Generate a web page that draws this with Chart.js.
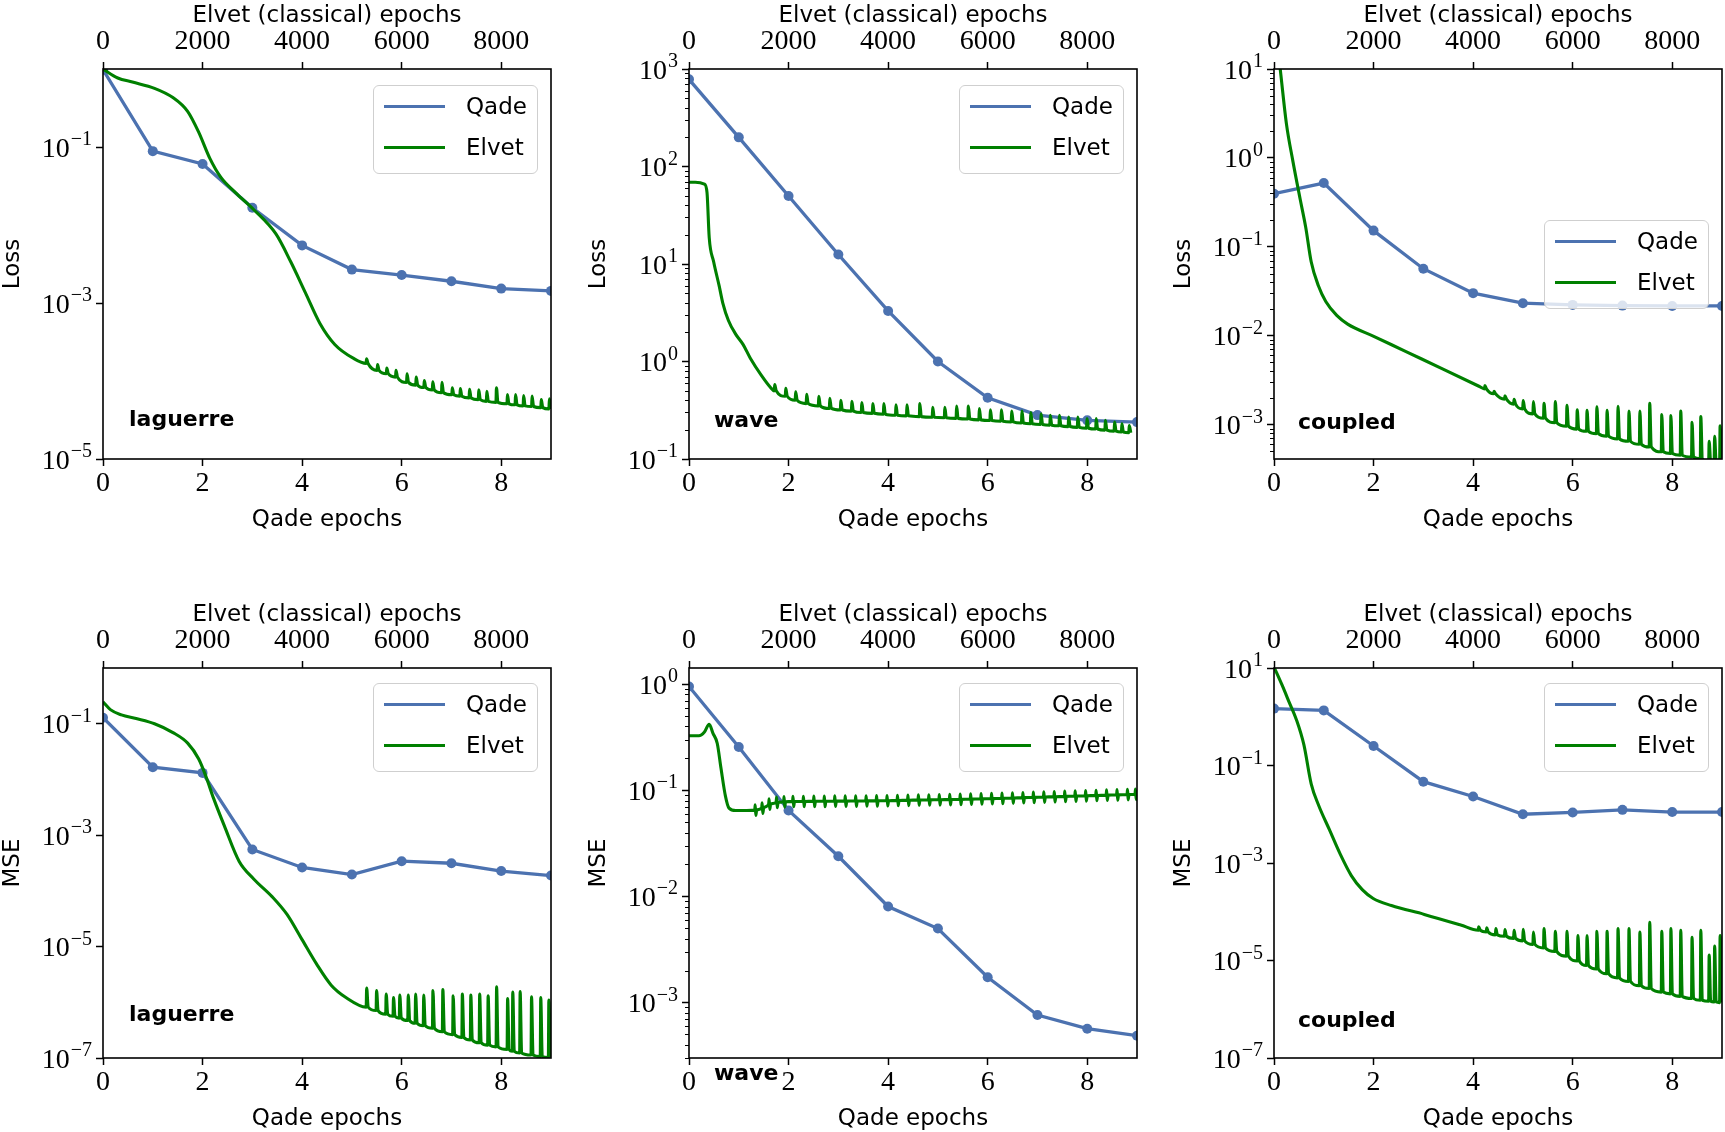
<!DOCTYPE html>
<html>
<head>
<meta charset="utf-8">
<script src="https://cdn.jsdelivr.net/npm/chart.js@4.4.1/dist/chart.umd.min.js"></script>
<style>
  body { margin: 0; width: 1725px; height: 1132px; overflow: hidden; background: #fff; position: relative; font-family: 'DejaVu Sans', sans-serif; }
  canvas { position: absolute; }
  .legend { position: absolute; width: 165px; height: 89px; box-sizing: border-box; border: 1.5px solid #cfcfcf; border-radius: 6px; background: rgba(255,255,255,0.8); }
  .legend .swatch { position: absolute; left: 10px; width: 61px; height: 3px; }
  .legend .name { position: absolute; left: 92px; font-size: 23px; line-height: 23px; color: #000; }
  .tag { position: absolute; font-weight: bold; font-size: 22px; line-height: 26px; color: #000; }
</style>
</head>
<body>
<script>
// x axis ticks
const qadeEpochs = [0, 1, 2, 3, 4, 5, 6, 7, 8, 9];
const qadeTicks = [0, 2, 4, 6, 8];
const elvetTicks = [0, 2000, 4000, 6000, 8000];

// laguerre - loss
const lagLossQade = [0.98, 0.0885, 0.0607, 0.0166, 0.00548, 0.00268, 0.00228, 0.0019, 0.00153, 0.00143];
const lagLossEp = [0, 296, 591, 1035, 1404, 1700, 1922, 2144, 2365, 2661, 3030, 3474, 3769, 4065, 4361, 4656, 5026];
const lagLossElvet = [1.0, 0.767, 0.68, 0.565, 0.43, 0.286, 0.155, 0.072, 0.041, 0.026, 0.0157, 0.00767, 0.0034, 0.00136, 0.000543, 0.000294, 0.000196];
// spikes: [epoch, base, top]
const lagLossSpikes = [
    [5285, 1.68e-4, 1.92e-4], [5506, 1.37e-4, 1.63e-4], [5691, 1.24e-4, 1.47e-4], [5876, 1.12e-4, 1.37e-4],
    [6098, 9.6e-5, 1.24e-4], [6282, 8.85e-5, 1.12e-4], [6445, 8.24e-5, 1.01e-4], [6615, 7.67e-5, 9.8e-5],
    [6800, 7.07e-5, 9.6e-5], [7007, 6.65e-5, 8.2e-5], [7169, 6.38e-5, 8.0e-5], [7354, 6.07e-5, 7.8e-5],
    [7539, 5.77e-5, 7.7e-5], [7701, 5.48e-5, 7.4e-5], [7894, 5.32e-5, 8.2e-5], [8115, 5.1e-5, 6.7e-5],
    [8278, 4.95e-5, 6.7e-5], [8440, 4.8e-5, 6.5e-5], [8610, 4.71e-5, 6.4e-5], [8795, 4.56e-5, 5.77e-5],
    [8958, 4.38e-5, 5.9e-5]
];
const lagLossDecades = [1e-5, 1e-3, 1e-1];

// wave - loss
const waveLossQade = [783, 199, 49.8, 12.5, 3.30, 1.0, 0.424, 0.282, 0.249, 0.239];
const waveLossEp = [0, 125, 310, 362, 406, 494, 605, 679, 790, 937, 1085, 1232, 1454, 1638];
const waveLossElvet = [69, 69, 66, 54, 18.7, 10.6, 5.99, 3.98, 2.65, 1.91, 1.50, 1.08, 0.72, 0.541];
const waveLossSpikes = [
    [1712, 0.50, 0.58], [1934, 0.44, 0.53], [2133, 0.40, 0.49], [2354, 0.37, 0.46], [2598, 0.35, 0.44],
    [2819, 0.33, 0.42], [3040, 0.318, 0.40], [3262, 0.31, 0.39], [3461, 0.30, 0.38], [3683, 0.294, 0.37],
    [3904, 0.288, 0.37], [4148, 0.281, 0.36], [4369, 0.277, 0.36], [4627, 0.272, 0.37], [4886, 0.268, 0.34],
    [5129, 0.265, 0.34], [5366, 0.261, 0.35], [5602, 0.257, 0.35], [5823, 0.252, 0.33], [6045, 0.248, 0.32],
    [6266, 0.244, 0.32], [6473, 0.240, 0.31], [6679, 0.234, 0.31], [6857, 0.230, 0.30], [7063, 0.226, 0.29],
    [7248, 0.222, 0.28], [7432, 0.219, 0.28], [7617, 0.215, 0.27], [7801, 0.211, 0.27], [7986, 0.207, 0.26],
    [8170, 0.203, 0.26], [8355, 0.198, 0.25], [8540, 0.193, 0.24], [8687, 0.189, 0.23], [8835, 0.186, 0.22]
];
const waveLossDecades = [0.1, 1, 10, 100, 1000];

// coupled - loss
const coupLossQade = [0.395, 0.521, 0.152, 0.0567, 0.0301, 0.0232, 0.0222, 0.0218, 0.0216, 0.0216];
const coupLossEp = [0, 125, 249, 381, 527, 637, 747, 894, 1040, 1260, 1480, 1993, 2652, 3385, 4117];
const coupLossElvet = [40, 10, 2.43, 0.908, 0.34, 0.166, 0.0678, 0.0362, 0.0242, 0.0169, 0.0135, 0.0099, 0.00662, 0.00424, 0.0027];
const coupLossSpikes = [
    [4227, 2.52e-3, 2.75e-3], [4410, 2.22e-3, 2.37e-3], [4630, 1.93e-3, 2.11e-3], [4813, 1.70e-3, 1.93e-3],
    [4996, 1.50e-3, 1.86e-3], [5201, 1.32e-3, 1.81e-3], [5414, 1.18e-3, 1.73e-3], [5641, 1.05e-3, 1.81e-3],
    [5875, 9.6e-4, 1.65e-3], [6081, 8.9e-4, 1.47e-3], [6278, 8.4e-4, 1.45e-3], [6476, 7.9e-4, 1.58e-3],
    [6681, 7.4e-4, 1.45e-3], [6901, 6.9e-4, 1.61e-3], [7121, 6.5e-4, 1.42e-3], [7340, 6.0e-4, 1.42e-3],
    [7538, 5.6e-4, 1.73e-3], [7780, 4.94e-4, 1.30e-3], [7963, 4.72e-4, 1.26e-3], [8161, 4.52e-4, 1.42e-3],
    [8388, 4.32e-4, 1.06e-3], [8564, 4.13e-4, 1.23e-3], [8732, 3.78e-4, 6.5e-4], [8842, 3.78e-4, 7.4e-4],
    [8952, 3.71e-4, 9.7e-4]
];
const coupLossDecades = [1e-3, 1e-2, 1e-1, 1, 10];

// laguerre - MSE
const lagMseQade = [0.128, 0.0166, 0.0131, 5.53e-4, 2.63e-4, 1.96e-4, 3.41e-4, 3.13e-4, 2.27e-4, 1.88e-4];
const lagMseEp = [0, 148, 370, 665, 1035, 1405, 1701, 1923, 2070, 2218, 2440, 2736, 3032, 3401, 3697, 3993, 4289, 4584, 4880];
const lagMseElvet = [0.247, 0.179, 0.144, 0.124, 0.1, 0.0694, 0.0448, 0.0232, 0.0112, 4.66e-3, 1.45e-3, 3.37e-4, 1.62e-4, 7.8e-5, 3.77e-5, 1.36e-5, 4.88e-6, 2.03e-6, 1.22e-6];
const lagMseSpikes = [
    [5287, 8.2e-7, 1.81e-6], [5486, 7.1e-7, 1.63e-6], [5679, 6.1e-7, 1.41e-6], [5826, 5.6e-7, 1.22e-6],
    [5952, 5.2e-7, 1.35e-6], [6122, 4.7e-7, 1.35e-6], [6270, 4.2e-7, 1.41e-6], [6433, 3.79e-7, 1.35e-6],
    [6618, 3.42e-7, 1.63e-6], [6817, 2.96e-7, 1.70e-6], [7024, 2.63e-7, 1.31e-6], [7209, 2.34e-7, 1.41e-6],
    [7379, 2.11e-7, 1.35e-6], [7557, 1.88e-7, 1.41e-6], [7727, 1.70e-7, 1.31e-6], [7897, 1.58e-7, 1.89e-6],
    [8118, 1.42e-7, 1.17e-6], [8222, 1.32e-7, 1.52e-6], [8370, 1.23e-7, 1.56e-6], [8599, 1.13e-7, 1.25e-6],
    [8784, 1.06e-7, 1.22e-6], [8947, 1.02e-7, 1.10e-6]
];
const lagMseDecades = [1e-7, 1e-5, 1e-3, 1e-1];

// wave - MSE
const waveMseQade = [0.95, 0.256, 0.0645, 0.0239, 8.03e-3, 4.98e-3, 1.73e-3, 7.62e-4, 5.67e-4, 4.87e-4];
const waveMseEp = [0, 199, 310, 406, 480, 568, 642, 731, 804, 937, 1159];
const waveMseElvet = [0.326, 0.326, 0.354, 0.419, 0.346, 0.276, 0.162, 0.0886, 0.0679, 0.0645, 0.0645];
// wiggles: [epoch, base, top, low]
const waveMseSpikes = [
    [1320, 0.0650, 0.0728, 0.0579], [1460, 0.0680, 0.0762, 0.0605], [1600, 0.0740, 0.0829, 0.0659],
    [1750, 0.0770, 0.0862, 0.0685], [1900, 0.0780, 0.0874, 0.0694], [2080, 0.0785, 0.0879, 0.0699],
    [2290, 0.0785, 0.0879, 0.0699], [2500, 0.0787, 0.0881, 0.0700], [2710, 0.0788, 0.0883, 0.0701],
    [2920, 0.0790, 0.0885, 0.0703], [3130, 0.0791, 0.0886, 0.0704], [3340, 0.0792, 0.0887, 0.0705],
    [3550, 0.0794, 0.0889, 0.0707], [3760, 0.0796, 0.0892, 0.0708], [3970, 0.0798, 0.0894, 0.0710],
    [4180, 0.0802, 0.0898, 0.0714], [4390, 0.0806, 0.0903, 0.0717], [4600, 0.0810, 0.0907, 0.0721],
    [4810, 0.0812, 0.0909, 0.0723], [5020, 0.0815, 0.0913, 0.0725], [5230, 0.0818, 0.0916, 0.0728],
    [5440, 0.0821, 0.0920, 0.0731], [5650, 0.0825, 0.0924, 0.0734], [5860, 0.0830, 0.0930, 0.0739],
    [6070, 0.0835, 0.0935, 0.0743], [6280, 0.0840, 0.0941, 0.0748], [6490, 0.0846, 0.0948, 0.0753],
    [6700, 0.0852, 0.0954, 0.0758], [6910, 0.0858, 0.0961, 0.0764], [7120, 0.0864, 0.0968, 0.0769],
    [7330, 0.0870, 0.0974, 0.0774], [7540, 0.0876, 0.0981, 0.0780], [7750, 0.0882, 0.0988, 0.0785],
    [7960, 0.0888, 0.0995, 0.0790], [8170, 0.0894, 0.1001, 0.0796], [8380, 0.0900, 0.1008, 0.0801],
    [8590, 0.0906, 0.1015, 0.0806], [8800, 0.0912, 0.1021, 0.0812], [8960, 0.0918, 0.1028, 0.0817]
];
const waveMseDecades = [1e-3, 1e-2, 1e-1, 1];

// coupled - MSE
const coupMseQade = [1.47, 1.35, 0.251, 0.0466, 0.0231, 0.01, 0.0109, 0.0123, 0.0111, 0.0111];
const coupMseEp = [0, 161, 308, 454, 601, 747, 894, 1113, 1333, 1553, 1773, 1993, 2359, 3018, 3751];
const coupMseElvet = [10.5, 4.49, 1.95, 0.847, 0.264, 0.0421, 0.0155, 4.83e-3, 1.50e-3, 5.52e-4, 2.84e-4, 1.87e-4, 1.34e-4, 8.83e-5, 5.35e-5];
const coupMseSpikes = [
    [4103, 4.17e-5, 4.92e-5], [4264, 3.84e-5, 4.68e-5], [4447, 3.36e-5, 4.53e-5], [4630, 3.14e-5, 4.31e-5],
    [4813, 2.84e-5, 4.17e-5], [4996, 2.53e-5, 4.38e-5], [5201, 2.14e-5, 3.84e-5], [5414, 1.81e-5, 4.53e-5],
    [5641, 1.53e-5, 3.97e-5], [5875, 1.23e-5, 3.97e-5], [6095, 9.8e-6, 3.25e-5], [6278, 7.9e-6, 3.25e-5],
    [6476, 6.7e-6, 3.97e-5], [6681, 5.36e-6, 3.97e-5], [6901, 4.39e-6, 4.53e-5], [7121, 3.72e-6, 4.53e-5],
    [7340, 3.04e-6, 3.84e-5], [7538, 2.66e-6, 6.11e-5], [7780, 2.25e-6, 3.97e-5], [7963, 2.07e-6, 4.53e-5],
    [8161, 1.84e-6, 4.17e-5], [8388, 1.67e-6, 2.99e-5], [8564, 1.53e-6, 4.17e-5], [8732, 1.46e-6, 1.30e-5],
    [8842, 1.41e-6, 1.97e-5], [8952, 1.37e-6, 3.25e-5]
];
const coupMseDecades = [1e-7, 1e-5, 1e-3, 1e-1, 10];

const BLUE = '#4c72b0';
const GREEN = '#008000';

// layout of the 2x3 grid
const colLeft = [103, 689, 1274];
const rowTop = [69, 668];
const PLOT_W = 450, PLOT_H = 390;
const Y_W = 103, TOP_H = 69, BOT_H = 74, RIGHT_PAD = 3;

const panels = [
    { col: 0, row: 0, yTitle: 'Loss', yMin: 1e-5, yMax: 1, decades: lagLossDecades, minor: false,
      qade: lagLossQade, ep: lagLossEp, val: lagLossElvet, spikes: lagLossSpikes, tag: 'laguerre', tagX: 26, tagY: 350, legY: 16 },
    { col: 1, row: 0, yTitle: 'Loss', yMin: 0.1, yMax: 1000, decades: waveLossDecades, minor: true,
      qade: waveLossQade, ep: waveLossEp, val: waveLossElvet, spikes: waveLossSpikes, tag: 'wave', tagX: 25, tagY: 351, legY: 16 },
    { col: 2, row: 0, yTitle: 'Loss', yMin: 4.1e-4, yMax: 10, decades: coupLossDecades, minor: true,
      qade: coupLossQade, ep: coupLossEp, val: coupLossElvet, spikes: coupLossSpikes, tag: 'coupled', tagX: 24, tagY: 353, legY: 151 },
    { col: 0, row: 1, yTitle: 'MSE', yMin: 1e-7, yMax: 1, decades: lagMseDecades, minor: false,
      qade: lagMseQade, ep: lagMseEp, val: lagMseElvet, spikes: lagMseSpikes, tag: 'laguerre', tagX: 26, tagY: 346, legY: 15 },
    { col: 1, row: 1, yTitle: 'MSE', yMin: 3.33e-4, yMax: 1.42, decades: waveMseDecades, minor: true,
      qade: waveMseQade, ep: waveMseEp, val: waveMseElvet, spikes: waveMseSpikes, tag: 'wave', tagX: 25, tagY: 405, legY: 15 },
    { col: 2, row: 1, yTitle: 'MSE', yMin: 1e-7, yMax: 10, decades: coupMseDecades, minor: false,
      qade: coupMseQade, ep: coupMseEp, val: coupMseElvet, spikes: coupMseSpikes, tag: 'coupled', tagX: 24, tagY: 352, legY: 15 }
];

// Elvet curve + its restart spikes
function elvetPoints(ep, val, spikes) {
    const pts = ep.map((e, i) => ({ x: e, y: val[i] }));
    spikes.forEach(s => {
        pts.push({ x: s[0], y: s[1] });
        pts.push({ x: s[0] + 10, y: s[2] });
        if (s.length > 3) pts.push({ x: s[0] + 22, y: s[3] });
        pts.push({ x: s[0] + 40, y: s[1] });
    });
    return pts;
}

const SERIF = "'Liberation Serif', serif";

// box around the plot, minor log ticks and the 10^n labels
const framePlugin = {
    id: 'frame',
    afterDraw(chart, args, opts) {
        const { ctx, chartArea: a } = chart;
        const ys = chart.scales.y;
        ctx.save();
        ctx.strokeStyle = '#000';
        ctx.fillStyle = '#000';
        if (opts.minor) {
            ctx.lineWidth = 1;
            for (let e = Math.floor(Math.log10(ys.min)); e <= Math.ceil(Math.log10(ys.max)); e++) {
                for (let m = 2; m <= 9; m++) {
                    const v = m * Math.pow(10, e);
                    if (v < ys.min || v > ys.max) continue;
                    const py = Math.round(ys.getPixelForValue(v)) + 0.5;
                    ctx.beginPath();
                    ctx.moveTo(a.left - 4, py);
                    ctx.lineTo(a.left, py);
                    ctx.stroke();
                }
            }
        }
        // tick labels as 10 with a raised exponent
        ctx.textBaseline = 'alphabetic';
        ctx.textAlign = 'left';
        (opts.decades || []).forEach(v => {
            const e = Math.round(Math.log10(v));
            const expText = String(e).replace('-', '\u2212');
            const py = ys.getPixelForValue(v);
            ctx.font = '20px ' + SERIF;
            const ew = ctx.measureText(expText).width;
            ctx.font = '28px ' + SERIF;
            const bw = ctx.measureText('10').width;
            const right = a.left - 11;
            ctx.fillText('10', right - ew - bw - 1, py + 9.5);
            ctx.font = '20px ' + SERIF;
            ctx.fillText(expText, right - ew, py - 2);
        });
        ctx.lineWidth = 1.6;
        ctx.strokeRect(a.left, a.top, a.right - a.left, a.bottom - a.top);
        ctx.restore();
    }
};

const tickFont = { family: SERIF, size: 28, lineHeight: 1 };
const titleFont = { family: "'DejaVu Sans', sans-serif", size: 23, lineHeight: 1 };
const gridOpts = { drawOnChartArea: false, drawTicks: true, tickLength: 7, tickColor: '#000', tickWidth: 1.5 };

function addLegend(left, top) {
    const box = document.createElement('div');
    box.className = 'legend';
    box.style.left = left + 'px';
    box.style.top = top + 'px';
    [['Qade', BLUE, 22], ['Elvet', GREEN, 62.5]].forEach(([name, color, cy]) => {
        const sw = document.createElement('div');
        sw.className = 'swatch';
        sw.style.background = color;
        sw.style.top = (cy - 1.5 - 1.5) + 'px';
        box.appendChild(sw);
        const tx = document.createElement('div');
        tx.className = 'name';
        tx.textContent = name;
        tx.style.top = (cy - 11.5 - 1.5) + 'px';
        box.appendChild(tx);
    });
    document.body.appendChild(box);
}

function addTag(text, left, cy) {
    const d = document.createElement('div');
    d.className = 'tag';
    d.textContent = text;
    d.style.left = left + 'px';
    d.style.top = (cy - 13) + 'px';
    document.body.appendChild(d);
}

panels.forEach(p => {
    const plotLeft = colLeft[p.col];
    const plotTop = rowTop[p.row];
    const canvas = document.createElement('canvas');
    canvas.width = Y_W + PLOT_W + RIGHT_PAD;
    canvas.height = TOP_H + PLOT_H + BOT_H;
    canvas.style.left = (plotLeft - Y_W) + 'px';
    canvas.style.top = (plotTop - TOP_H) + 'px';
    document.body.appendChild(canvas);

    new Chart(canvas, {
        type: 'line',
        data: {
            datasets: [
                { label: 'Elvet', data: elvetPoints(p.ep, p.val, p.spikes), xAxisID: 'x2', yAxisID: 'y',
                  borderColor: GREEN, borderWidth: 3.1, pointRadius: 0, cubicInterpolationMode: 'monotone',
                  borderJoinStyle: 'round', order: 0, clip: 0 },
                { label: 'Qade', data: qadeEpochs.map((e, i) => ({ x: e, y: p.qade[i] })), xAxisID: 'x', yAxisID: 'y',
                  borderColor: BLUE, backgroundColor: BLUE, borderWidth: 3.3, pointRadius: 5, pointHoverRadius: 5,
                  pointBorderWidth: 0, tension: 0, order: 1, clip: 0 }
            ]
        },
        options: {
            responsive: false,
            animation: false,
            devicePixelRatio: 1,
            events: [],
            layout: { padding: { left: 0, right: RIGHT_PAD, top: 0, bottom: 0 } },
            plugins: { legend: { display: false }, tooltip: { enabled: false }, frame: { minor: p.minor, decades: p.decades } },
            scales: {
                x: {
                    type: 'linear', position: 'bottom', min: 0, max: 9,
                    afterBuildTicks: s => { s.ticks = qadeTicks.map(v => ({ value: v })); },
                    afterFit: s => { s.height = BOT_H; },
                    ticks: { font: tickFont, color: '#000', padding: 4, maxRotation: 0, autoSkip: false, callback: v => String(v) },
                    grid: gridOpts,
                    border: { display: false },
                    title: { display: true, text: 'Qade epochs', font: titleFont, color: '#000', padding: { top: 0, bottom: 1 } }
                },
                x2: {
                    type: 'linear', position: 'top', min: 0, max: 9000,
                    afterBuildTicks: s => { s.ticks = elvetTicks.map(v => ({ value: v })); },
                    afterFit: s => { s.height = TOP_H; },
                    ticks: { font: tickFont, color: '#000', padding: 6, maxRotation: 0, autoSkip: false, callback: v => String(v) },
                    grid: gridOpts,
                    border: { display: false },
                    title: { display: true, text: 'Elvet (classical) epochs', font: titleFont, color: '#000', padding: { top: 5, bottom: 0 } }
                },
                y: {
                    type: 'logarithmic', position: 'left', min: p.yMin, max: p.yMax,
                    afterBuildTicks: s => { s.ticks = p.decades.map(v => ({ value: v })); },
                    afterFit: s => { s.width = Y_W; },
                    ticks: { display: false, autoSkip: false },
                    grid: gridOpts,
                    border: { display: false },
                    title: { display: true, text: p.yTitle, font: titleFont, color: '#000', padding: { top: 2, bottom: 0 } }
                }
            }
        },
        plugins: [framePlugin]
    });

    addLegend(plotLeft + 270, plotTop + p.legY);
    addTag(p.tag, plotLeft + p.tagX, plotTop + p.tagY);
});
</script>
</body>
</html>
